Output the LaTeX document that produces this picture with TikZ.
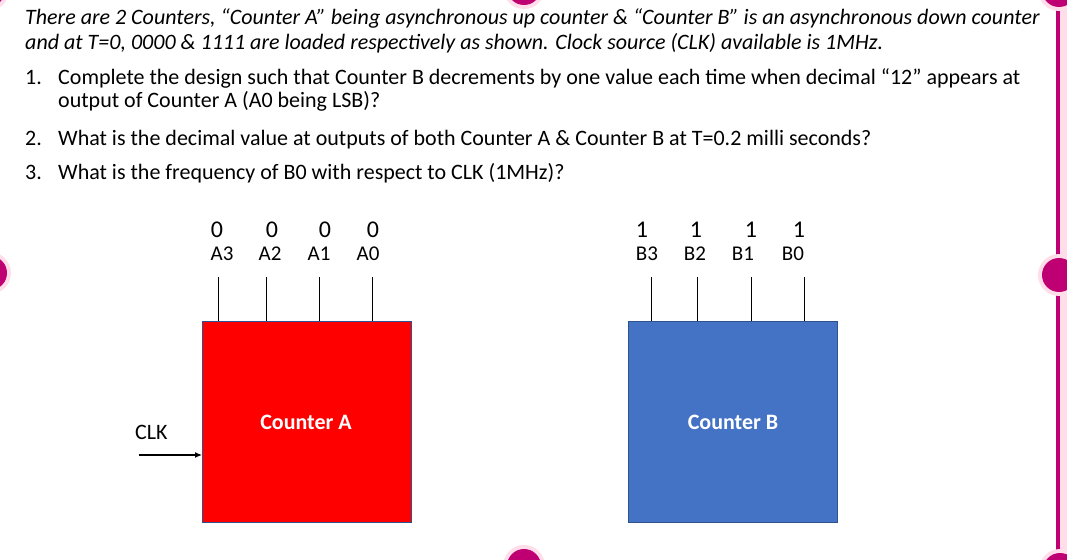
\documentclass[tikz,border=0pt]{standalone}
\usepackage{fontspec}
\setmainfont{Carlito}
\usetikzlibrary{arrows.meta}
\definecolor{deco}{HTML}{BE0072}
\definecolor{decolight}{HTML}{FFDDE9}
\definecolor{redbox}{HTML}{FF0000}
\definecolor{bluebox}{HTML}{4472C4}
\definecolor{boxedge}{HTML}{2F528F}
\tikzset{
  txt/.style={anchor=base west, inner sep=0pt, font=\fontsize{22}{25}\selectfont},
  itxt/.style={txt, font=\fontsize{22}{25}\selectfont\itshape},
  digit/.style={anchor=base, inner sep=0pt, font=\fontsize{24}{28}\selectfont},
  pinlbl/.style={anchor=base, inner sep=0pt, font=\fontsize{21}{24}\selectfont},
  counterbox/.style={draw=boxedge, line width=0.8pt, minimum width=209pt, minimum height=201pt, anchor=north west, inner sep=0pt},
  boxlbl/.style={font=\fontsize{22}{25}\selectfont\bfseries, text=white},
  pin/.style={line width=1pt, black},
  decoring/.style={fill=decolight},
  decodot/.style={fill=deco},
}
\begin{document}
\begin{tikzpicture}[x=1pt,y=-1pt]
\useasboundingbox (0,0) rectangle (1067,559);
% decorations
\fill[decolight] (1060,0) rectangle (1067,559);
\fill[deco] (1056,0) rectangle (1060,559);
\foreach \cx/\cy in {-12/-10, 524/-12, 1059/-10, -10/273, 1059/275, 524/566, 1060/570}{
  \fill[decoring] (\cx,\cy) circle (21);
  \fill[decodot] (\cx,\cy) circle (17);
}
% header text
\node[itxt] (l1) at (25,25) {There are 2 Counters, “Counter A” being asynchronous up counter \& “Counter B” is an asynchronous down counter};
\node[itxt] (l2) at (25,50) {and at T=0, 0000 \& 1111 are loaded respectively as shown. Clock source (CLK) available is 1MHz.};
\node[txt] (n1) at (25,85) {1.};
\node[txt] (q1a) at (58,85) {Complete the design such that Counter B decrements by one value each time when decimal “12” appears at};
\node[txt] (q1b) at (58,108) {output of Counter A (A0 being LSB)?};
\node[txt] (n2) at (25,146) {2.};
\node[txt] (q2) at (58,146) {What is the decimal value at outputs of both Counter A \& Counter B at T=0.2 milli seconds?};
\node[txt] (n3) at (25,179) {3.};
\node[txt] (q3) at (58,179) {What is the frequency of B0 with respect to CLK (1MHz)?};
% boxes
\node[counterbox, fill=redbox] (boxA) at (202,321) {};
\node[counterbox, fill=bluebox] (boxB) at (628,321) {};
\node[boxlbl] (lblA) at (306,422) {Counter A};
\node[boxlbl] (lblB) at (733,422) {Counter B};
% pins counter A
\foreach \nm/\px/\dx/\lx/\lab in {a3/218/217/222/A3, a2/266/272/270/A2, a1/319/325/319/A1, a0/372/373/368/A0}{
  \coordinate (\nm top) at (\px,277);
  \draw[pin] (\nm top) -- (\nm top |- boxA.north);
  \node[digit] (\nm val) at (\dx,237) {0};
  \node[pinlbl] (\nm lbl) at (\lx,260) {\lab};
}
% pins counter B
\foreach \nm/\px/\dx/\lx/\lab in {b3/651/642/647/B3, b2/697/696/695/B2, b1/751/751/743/B1, b0/804/799/793/B0}{
  \coordinate (\nm top) at (\px,277);
  \draw[pin] (\nm top) -- (\nm top |- boxB.north);
  \node[digit] (\nm val) at (\dx,237) {1};
  \node[pinlbl] (\nm lbl) at (\lx,260) {\lab};
}
% clock
\node[txt] (clk) at (135,439) {CLK};
\coordinate (clkstart) at (139,455);
\draw[line width=1.2pt, -{Latex[length=7pt,width=6pt]}] (clkstart) -- (clkstart -| boxA.west);
\end{tikzpicture}
\end{document}
